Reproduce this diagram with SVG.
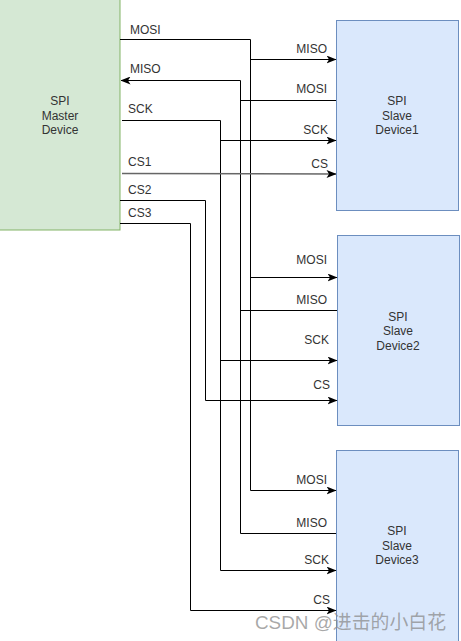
<svg xmlns="http://www.w3.org/2000/svg" width="461" height="641" viewBox="0 0 461 641">
<style>
.master{fill:#d5e8d4;stroke:#82b366;stroke-width:1}
.slave{fill:#dae8fc;stroke:#6c8ebf;stroke-width:1}
.node{font-family:"Liberation Sans",Arial,sans-serif;font-size:12px;fill:#333333;text-anchor:middle}
.lbl{font-family:"Liberation Sans",Arial,sans-serif;font-size:12px;fill:#333333}
.r{text-anchor:end}
.w{fill:none;stroke:#000000;stroke-width:1}
.g{fill:none;stroke:#666666;stroke-width:1.5}
.wm{font-family:"Liberation Sans","Noto Sans CJK SC",sans-serif;font-size:19px;fill:#8c8c8c;fill-opacity:0.75}
</style>
<defs>
<marker id="ar" viewBox="0 0 10 8" refX="9.5" refY="4" markerWidth="10" markerHeight="8" markerUnits="userSpaceOnUse" orient="auto">
<path d="M0,0 L10,4 L0,8 L2.5,4 z" fill="#000000"/>
</marker>
<marker id="arg" viewBox="0 0 10 8" refX="9.5" refY="4" markerWidth="10" markerHeight="8" markerUnits="userSpaceOnUse" orient="auto">
<path d="M0,0 L10,4 L0,8 L2.5,4 z" fill="#000000"/>
</marker>
</defs>
<g id="master">
<rect class="master" x="-1" y="-1" width="121" height="231"/>
<text class="node" x="60" y="105">SPI</text>
<text class="node" x="60" y="120">Master</text>
<text class="node" x="60" y="134">Device</text>
</g>
<g id="slave1">
<rect class="slave" x="336.5" y="20.5" width="122" height="190"/>
<text class="node" x="397" y="105">SPI</text>
<text class="node" x="397" y="120">Slave</text>
<text class="node" x="397" y="134">Device1</text>
</g>
<g id="slave2">
<rect class="slave" x="337.5" y="235.5" width="122" height="190"/>
<text class="node" x="398" y="321">SPI</text>
<text class="node" x="398" y="335">Slave</text>
<text class="node" x="398" y="350">Device2</text>
</g>
<g id="slave3">
<rect class="slave" x="336.5" y="450.5" width="122" height="200"/>
<text class="node" x="397" y="535">SPI</text>
<text class="node" x="397" y="550">Slave</text>
<text class="node" x="397" y="564">Device3</text>
</g>
<g id="connectors">
<path class="w" d="M120,39.5 H250.5 V490.5 H336" marker-end="url(#ar)"/>
<path class="w" d="M250.5,59.5 H336" marker-end="url(#ar)"/>
<path class="w" d="M250.5,277.5 H337" marker-end="url(#ar)"/>
<path class="w" d="M240.5,533.5 V80.5 H121" marker-end="url(#ar)"/>
<path class="w" d="M240.5,100.5 H336"/>
<path class="w" d="M240.5,310.5 H337"/>
<path class="w" d="M240.5,533.5 H336"/>
<path class="w" d="M122,120.5 H220.5 V570.5 H336" marker-end="url(#ar)"/>
<path class="w" d="M220.5,140.5 H336" marker-end="url(#ar)"/>
<path class="w" d="M220.5,360.5 H337" marker-end="url(#ar)"/>
<path class="g" d="M122,173.5 L336,174" marker-end="url(#arg)"/>
<path class="w" d="M120,200.5 H205.5 V400.5 H337" marker-end="url(#ar)"/>
<path class="w" d="M120,223.5 H190.5 V610.5 H336" marker-end="url(#ar)"/>
</g>
<g id="labels">
<text class="lbl" x="130" y="34">MOSI</text>
<text class="lbl" x="130" y="73">MISO</text>
<text class="lbl" x="128" y="113">SCK</text>
<text class="lbl" x="128" y="166">CS1</text>
<text class="lbl" x="128" y="194">CS2</text>
<text class="lbl" x="128" y="217">CS3</text>
<text class="lbl r" x="327" y="53">MISO</text>
<text class="lbl r" x="327" y="93">MOSI</text>
<text class="lbl r" x="328" y="134">SCK</text>
<text class="lbl r" x="328" y="168">CS</text>
<text class="lbl r" x="327" y="264">MOSI</text>
<text class="lbl r" x="327" y="304">MISO</text>
<text class="lbl r" x="329" y="344">SCK</text>
<text class="lbl r" x="330" y="389">CS</text>
<text class="lbl r" x="327" y="484">MOSI</text>
<text class="lbl r" x="327" y="527">MISO</text>
<text class="lbl r" x="329" y="564">SCK</text>
<text class="lbl r" x="330" y="604">CS</text>
</g>
<text class="wm" x="255" y="629" textLength="191" lengthAdjust="spacingAndGlyphs">CSDN @进击的小白花</text>
</svg>
